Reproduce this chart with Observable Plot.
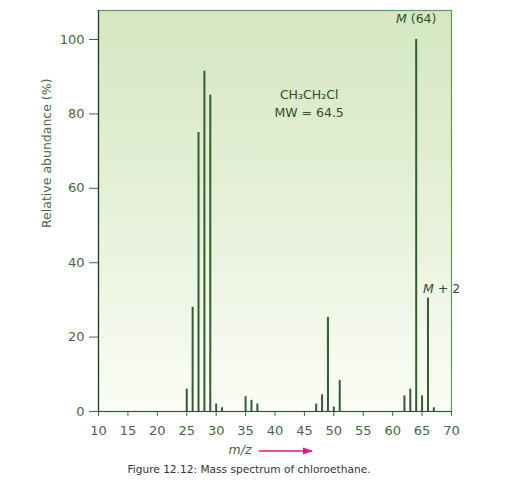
<!DOCTYPE html>
<html><head><meta charset="utf-8">
<script src="https://cdn.jsdelivr.net/npm/d3@7"></script>
<script src="https://cdn.jsdelivr.net/npm/@observablehq/plot@0.6"></script>
<style>
body{margin:0;background:#fff;font-family:"DejaVu Sans",sans-serif;}
#wrap{position:relative;width:518px;height:487px;overflow:hidden;}
#xl{position:absolute;left:0;top:440px;width:518px;height:22px;}
#cap{position:absolute;left:0;width:498px;top:463px;text-align:center;font-size:10.6px;color:#333;}
</style></head><body><div id="wrap"><div id="chart"></div>
<svg id="xl" width="518" height="22">
  <defs><marker id="ah" viewBox="0 0 10 10" refX="9" refY="5" markerWidth="7" markerHeight="7" orient="auto"><path d="M0,1.5L10,5L0,8.5z" fill="#d81f78"/></marker></defs>
  <text x="240" y="14" text-anchor="middle" font-style="italic" font-size="12.5" fill="#3f6a3f" font-family="DejaVu Sans">m/z</text>
  <line x1="259" x2="312" y1="11" y2="11" stroke="#d81f78" stroke-width="1.5" marker-end="url(#ah)"/>
</svg>
<div id="cap">Figure 12.12: Mass spectrum of chloroethane.</div>
</div>
<script>
const mz = [25, 26, 27, 28, 29, 30, 31, 35, 36, 37, 47, 48, 49, 50, 51, 62, 63, 64, 65, 66, 67];
const abundance = [6, 28, 75, 91.5, 85, 2, 1, 4, 3, 2, 2, 4.5, 25.3, 1.2, 8.3, 4.2, 6, 100, 4.2, 30.5, 1];
const xTicks = [10, 15, 20, 25, 30, 35, 40, 45, 50, 55, 60, 65, 70];
const yTicks = [0, 20, 40, 60, 80, 100];
const peakLabels = ["M (64)", "M + 2"];
const peakLabelMz = [64, 66];
const infoLines = ["CH₃CH₂Cl", "MW = 64.5"];
const infoX = [45.8, 45.8];
const infoY = [85, 80.2];

const data = mz.map((m, i) => ({mz: m, ab: abundance[i]}));
const peaks = peakLabels.map((t, i) => ({t, mz: peakLabelMz[i], ab: abundance[mz.indexOf(peakLabelMz[i])]}));
const info = infoLines.map((t, i) => ({t, x: infoX[i], y: infoY[i]}));

const green = "#3f6a3f";
const defsMark = () => {
  const defs = d3.create("svg:defs");
  const g = defs.append("linearGradient").attr("id", "bg").attr("x1", 0).attr("y1", 0).attr("x2", 0).attr("y2", 1);
  g.append("stop").attr("offset", "0%").attr("stop-color", "#d3e7c1");
  g.append("stop").attr("offset", "55%").attr("stop-color", "#e9f2dc");
  g.append("stop").attr("offset", "100%").attr("stop-color", "#fbfdf6");
  return defs.node();
};

const chart = Plot.plot({
  width: 518,
  height: 440,
  marginLeft: 98,
  marginRight: 67,
  marginTop: 10,
  marginBottom: 29,
  style: {fontFamily: "DejaVu Sans, sans-serif", fontSize: "13px", color: green, background: "transparent"},
  x: {domain: [10, 70]},
  y: {domain: [0, 107.8]},
  marks: [
    defsMark,
    Plot.frame({fill: "url(#bg)", stroke: "#5f9a5a", strokeWidth: 1.2}),
    Plot.ruleX([10], {stroke: "#1e3b1e", strokeWidth: 1.2}),
    Plot.axisX({ticks: xTicks, tickSize: 5, tickPadding: 9, stroke: green, fill: green, label: null, fontSize: 13}),
    Plot.axisY({ticks: yTicks, tickSize: 9, tickPadding: 5, stroke: green, fill: green, label: null, fontSize: 13}),
    Plot.ruleY([0], {stroke: "#2d552d", strokeWidth: 1.2}),
    Plot.ruleX(data, {x: "mz", y1: 0, y2: "ab", stroke: "#2f5e2f", strokeWidth: 2}),
    Plot.text(info, {x: "x", y: "y", text: "t", fill: "#2f4f2f", fontSize: 12.5}),
    Plot.text(peaks.slice(0, 1), {x: "mz", y: "ab", text: "t", fill: "#2f4f2f", fontSize: 12.5, dy: -21, className: "pk"}),
    Plot.text(peaks.slice(1), {x: "mz", y: "ab", text: "t", fill: "#2f4f2f", fontSize: 12.5, dy: -9, dx: -5, textAnchor: "start", className: "pk"}),
    Plot.text(["Relative abundance (%)"], {frameAnchor: "left", text: d => d, rotate: -90, dx: -52, dy: 17, fill: green, fontSize: 12.5})
  ]
});
document.getElementById("chart").appendChild(chart);
d3.select(chart).selectAll(".pk text").each(function() {
  const t = this.textContent;
  const rest = t.slice(1);
  const el = d3.select(this);
  el.text(null);
  el.append("tspan").attr("font-style", "italic").text("M");
  el.append("tspan").text(rest);
});
</script></body></html>
